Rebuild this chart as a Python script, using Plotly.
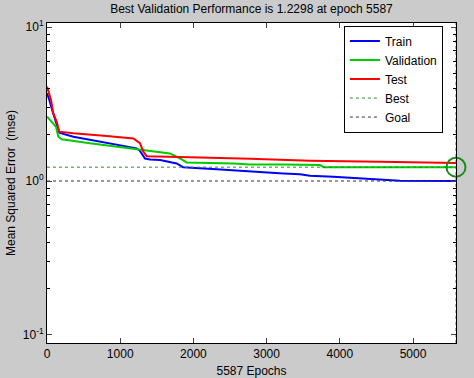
import plotly.graph_objects as go

# ---- data ----
train_epochs = [0, 32, 77, 132, 168, 360, 815, 1225, 1270, 1339, 1407, 1545, 1771, 1862, 2318, 2773, 3228, 3456, 3592, 3911, 4367, 4822, 5587]
train_mse = [3.71, 3.36, 2.82, 2.37, 2.06, 1.94, 1.76, 1.63, 1.57, 1.40, 1.38, 1.37, 1.30, 1.227, 1.19, 1.149, 1.12, 1.105, 1.08, 1.066, 1.03, 1.005, 1.0]

val_epochs = [0, 64, 123, 155, 200, 587, 1043, 1270, 1407, 1545, 1680, 1817, 1908, 2545, 2773, 3228, 3456, 3729, 3780, 5587]
val_mse = [2.62, 2.43, 2.25, 1.94, 1.865, 1.76, 1.655, 1.61, 1.57, 1.55, 1.51, 1.40, 1.32, 1.30, 1.28, 1.28, 1.28, 1.27, 1.2298, 1.2298]

test_epochs = [0, 55, 86, 132, 168, 360, 815, 1180, 1270, 1316, 1362, 1545, 2090, 2773, 3364, 3592, 4548, 5273, 5587]
test_mse = [4.1, 3.36, 2.75, 2.43, 2.09, 2.04, 1.96, 1.89, 1.76, 1.55, 1.45, 1.44, 1.42, 1.395, 1.37, 1.355, 1.335, 1.31, 1.31]

best_epoch = 5587
best_perf = 1.2298
goal = 1.0
x_ticks = [0, 1000, 2000, 3000, 4000, 5000]
y_ticks = [0.1, 1, 10]
y_tick_text = ["10<sup>-1</sup>", "10<sup>0</sup>", "10<sup>1</sup>"]
y_minor = [0.2, 0.3, 0.4, 0.5, 0.6, 0.7, 0.8, 0.9, 2, 3, 4, 5, 6, 7, 8, 9]
y_lo, y_hi = 0.0887, 10.62

fig = go.Figure()
fig.add_trace(go.Scatter(x=train_epochs, y=train_mse, mode="lines", name="Train",
                         line=dict(color="#0000ff", width=2)))
fig.add_trace(go.Scatter(x=val_epochs, y=val_mse, mode="lines", name="Validation",
                         line=dict(color="#00cc00", width=2)))
fig.add_trace(go.Scatter(x=test_epochs, y=test_mse, mode="lines", name="Test",
                         line=dict(color="#ff0000", width=2)))
fig.add_trace(go.Scatter(x=[0, best_epoch], y=[best_perf, best_perf], mode="lines", name="Best",
                         line=dict(color="#2e8b2e", width=1, dash="3px,3px")))
fig.add_trace(go.Scatter(x=[0, best_epoch], y=[goal, goal], mode="lines", name="Goal",
                         line=dict(color="#333333", width=1, dash="3px,3px")))
fig.add_trace(go.Scatter(x=[best_epoch, best_epoch], y=[y_lo, y_hi], mode="lines", showlegend=False,
                         line=dict(color="#2e8b2e", width=1, dash="3px,3px"), cliponaxis=False))
fig.add_trace(go.Scatter(x=[best_epoch], y=[best_perf], mode="markers", showlegend=False,
                         marker=dict(symbol="circle-open", size=19, color="#1a8a1a",
                                     line=dict(width=2, color="#1a8a1a")),
                         cliponaxis=False))

axis_font = dict(family="Liberation Sans, Arial, sans-serif", size=12, color="black")
fig.update_layout(
    width=474, height=378,
    margin=dict(l=47, r=18, t=23, b=35),
    paper_bgcolor="#cbcbcb", plot_bgcolor="white",
    font=axis_font,
    title=dict(text="Best Validation Performance is 1.2298 at epoch 5587",
               x=0.5305, xanchor="center", y=0.978, yanchor="middle",
               font=dict(size=12, color="black")),
    showlegend=True,
    legend=dict(x=0.968, xanchor="right", y=0.992, yanchor="top",
                bgcolor="white", bordercolor="black", borderwidth=1,
                font=dict(size=12), tracegroupgap=0),
    xaxis=dict(range=[0, 5587], tickvals=x_ticks, ticks="inside", ticklen=5,
               showline=True, linecolor="black", linewidth=1, mirror="ticks",
               showgrid=False, zeroline=False, automargin=False,
               title=dict(text="5587 Epochs", standoff=6, font=dict(size=12))),
    yaxis=dict(type="log", range=[-1.052, 1.026], tickvals=y_ticks, ticktext=y_tick_text,
               ticks="inside", ticklen=5, showline=True, linecolor="black", linewidth=1,
               mirror="ticks", showgrid=False, zeroline=False, automargin=False,
               minor=dict(tickvals=y_minor, ticks="inside", ticklen=3, tickcolor="black", showgrid=False),
               title=dict(text="Mean Squared Error  (mse)", standoff=4, font=dict(size=12))),
)

fig.write_html("out.html", config={"displayModeBar": False},
               post_script="document.body.style.margin='0';document.body.style.overflow='hidden';")
